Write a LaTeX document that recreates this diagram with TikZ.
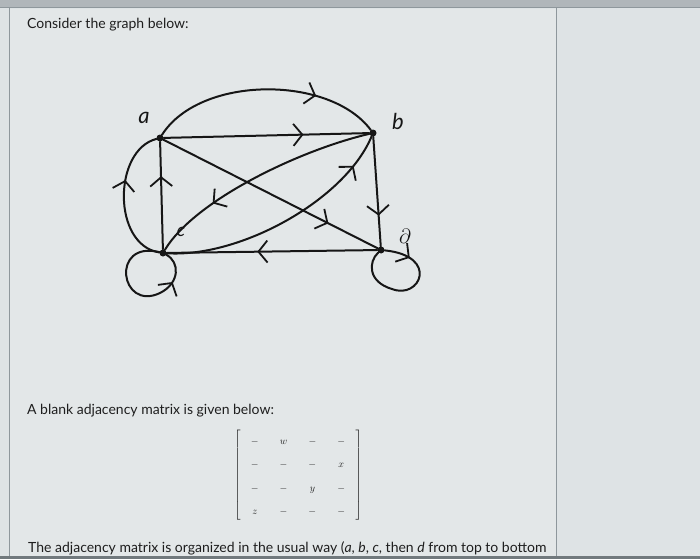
\documentclass[tikz,border=0pt]{standalone}
\usepackage{fontspec}
\setmainfont{Lato}
\usetikzlibrary{arrows.meta,decorations.markings}
\definecolor{bg}{HTML}{DEE3E5}
\definecolor{panel}{HTML}{E3E7E8}
\definecolor{frame}{HTML}{8E979C}
\definecolor{ink}{HTML}{161616}
\definecolor{txt}{HTML}{1E1E1E}
\tikzset{
  pen/.style={draw=ink,line width=2pt,line cap=round},
  chev/.style={postaction={decorate},decoration={markings,
     mark=at position #1 with {\arrow[ink]{Straight Barb[length=9pt,width=22pt,line width=1.8pt]}}}},
  vtx/.style={circle,fill=ink,inner sep=0pt,minimum size=7pt},
  hand/.style={font=\fontsize{22}{22}\selectfont\itshape,text=ink},
  body/.style={font=\fontsize{14}{16}\selectfont,text=txt,anchor=west,inner sep=0pt}
}
\begin{document}
\begin{tikzpicture}[x=1pt,y=-1pt]
\useasboundingbox (0,0) rectangle (700,559);
\fill[bg] (0,0) rectangle (700,559);
\fill[panel] (9,9) rectangle (556,556);
\fill[frame!70] (0,0) rectangle (700,7);
\draw[frame,line width=1pt] (0,8) -- (700,8);
\draw[frame,line width=0.8pt] (9,8) -- (9,556);
\draw[frame,line width=0.8pt] (556,8) -- (556,556);
\fill[frame!80!black] (0,556) rectangle (700,559);

\node[body] (t1) at (27,25) {Consider the graph below:};

% vertices
\node[vtx] (a) at (160,138) {};
\node[vtx] (b) at (373,133) {};
\node[vtx] (c) at (163,253) {};
\node[vtx] (d) at (381,250) {};
\node[hand] (la) at (144,118) {a};
\node[hand] (lb) at (398,121) {b};
\node[hand,font=\fontsize{18}{18}\selectfont\itshape] (lc) at (181,232) {c};
\node[hand] (ld) at (405,236) {$\partial$};

% edges
\draw[pen,chev=0.68] (a) -- (b);
\draw[pen,chev=0.72] (a) .. controls (200,75) and (330,75) .. (b);
\draw[pen,chev=0.77] (a) -- (d);
\draw[pen,chev=0.72] (b) -- (d);
\draw[pen,chev=0.57] (d) -- (c);
\draw[pen,chev=0.68] (c) -- (a);
\draw[pen,chev=0.62] (c) .. controls (112,245) and (113,150) .. (a);
\draw[pen,chev=0.72] (b) .. controls (300,150) and (195,200) .. (c);
\draw[pen,chev=0.86] (c) .. controls (240,258) and (345,200) .. (b);
\draw[pen,chev=0.78] (c) .. controls (110,240) and (120,312) .. (160,293) .. controls (180,283) and (180,262) .. (c);
\draw[pen,chev=0.2] (d) .. controls (440,256) and (420,300) .. (392,289) .. controls (368,282) and (368,262) .. (d);

\node[body] (t2) at (27,411) {A blank adjacency matrix is given below:};
\node[inner sep=0pt,text=txt] (m) at (298,475) {\fontsize{10}{12}\selectfont
  $\renewcommand\arraystretch{1.95}\setlength\arraycolsep{10.5pt}
  \left[\begin{array}{cccc}
  - & w & - & - \\
  - & - & - & x \\
  - & - & y & - \\
  z & - & - & -
  \end{array}\right]$};
\node[body] (t3) at (28,548) {The adjacency matrix is organized in the usual way (\textit{a}, \textit{b}, \textit{c}, then \textit{d} from top to bottom};
\end{tikzpicture}
\end{document}
